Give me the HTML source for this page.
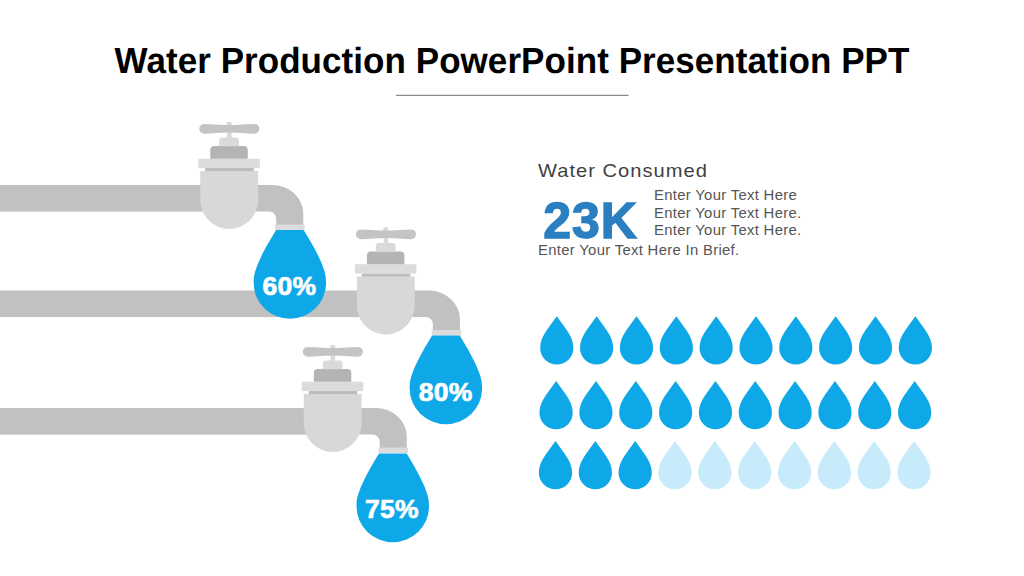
<!DOCTYPE html>
<html><head><meta charset="utf-8"><title>Water Production</title>
<style>
html,body{margin:0;padding:0;background:#fff;}
body{width:1024px;height:576px;position:relative;overflow:hidden;font-family:"Liberation Sans",sans-serif;}
svg{position:absolute;left:0;top:0;}
.t{position:absolute;white-space:nowrap;line-height:1;transform-origin:0 0;}
#title{left:0;width:1024px;text-align:center;top:43px;font-size:35px;font-weight:bold;color:#000;letter-spacing:0.06px;transform:scaleY(1.04);text-rendering:geometricPrecision;}
#wc{left:537.8px;top:162.3px;font-size:18.6px;color:#3f3f3f;letter-spacing:0.95px;transform:scaleX(1.08);}
#k{left:543.2px;top:195.6px;font-size:50px;font-weight:bold;color:#2a7fc1;letter-spacing:1px;-webkit-text-stroke:1.4px #2a7fc1;}
.l{font-size:14px;color:#555;letter-spacing:0.3px;transform:scaleX(1.06);}
.p{font-size:26.5px;font-weight:bold;color:#fff;-webkit-text-stroke:0.7px #fff;letter-spacing:0.2px;}
</style></head><body>
<svg width="1024" height="576" viewBox="0 0 1024 576">
<defs>
<g id="faucet">
  <rect x="-300" y="185" width="515" height="26.6" fill="#c1c1c1"/>
  <path d="M250,185 L272.6,185 A30.7,28.6 0 0 1 303.3,213.6 L303.3,225 L276.2,225 L276.2,218.6 A7,7 0 0 0 269.2,211.6 L250,211.6 Z" fill="#c1c1c1"/>
  <rect x="275" y="224.6" width="29.6" height="5.4" fill="#dcdcdc"/>
  <path d="M200.3,171 H258.1 V200.3 A28.9,28.6 0 0 1 200.3,200.3 Z" fill="#d8d8d8"/>
  <rect x="205.2" y="168" width="48.6" height="3.1" fill="#bcbcbc"/>
  <rect x="198.3" y="158.7" width="61.5" height="9.4" fill="#dcdcdc"/>
  <path d="M210.3,158.8 V150 A4,4 0 0 1 214.3,146 H243.8 A4,4 0 0 1 247.8,150 V158.8 Z" fill="#b4b4b4"/>
  <path d="M219.2,146.2 V140.4 A3,3 0 0 1 222.2,137.4 H236 A3,3 0 0 1 239,140.4 V146.2 Z" fill="#dadada"/>
  <rect x="227" y="132" width="4.7" height="6" fill="#dadada"/>
  <rect x="226.6" y="121.8" width="5.2" height="5" rx="2" fill="#dadada"/>
  <path d="M204.2,123.9 C212,123.9 220,125.1 229.3,125.1 C238,125.1 247,123.9 254.5,123.9 A4.9,4.9 0 0 1 254.5,133.7 C247,133.7 238,132.5 229.3,132.5 C220,132.5 212,133.7 204.2,133.7 A4.9,4.9 0 0 1 204.2,123.9 Z" fill="#c4c4c4"/>
</g>
<path id="bigdrop" d="M276.10,230.1 L303.70,230.1 C326.90,267.5 326.10,277 326.10,283.3 A36.2,35.4 0 0 1 253.70,283.3 C253.70,277 252.90,267.5 276.10,230.1 Z" fill="#0ea8e8"/>
</defs>
<rect x="396" y="94.8" width="232.6" height="1" fill="#6e6e6e"/>
<use href="#faucet"/>
<use href="#faucet" transform="translate(156.6,105.5)"/>
<use href="#faucet" transform="translate(103.5,223)"/>
<use href="#bigdrop"/>
<use href="#bigdrop" transform="translate(156,105.5)"/>
<use href="#bigdrop" transform="translate(102.9,223.5)"/>
<path transform="translate(540.20,316.2)" d="M16.6,0 C28,15.5 33.2,22 33.2,32 A16.6,16.2 0 0 1 0,32 C0,22 5.2,15.5 16.6,0 Z" fill="#0ea8e8"/>
<path transform="translate(580.04,316.2)" d="M16.6,0 C28,15.5 33.2,22 33.2,32 A16.6,16.2 0 0 1 0,32 C0,22 5.2,15.5 16.6,0 Z" fill="#0ea8e8"/>
<path transform="translate(619.88,316.2)" d="M16.6,0 C28,15.5 33.2,22 33.2,32 A16.6,16.2 0 0 1 0,32 C0,22 5.2,15.5 16.6,0 Z" fill="#0ea8e8"/>
<path transform="translate(659.72,316.2)" d="M16.6,0 C28,15.5 33.2,22 33.2,32 A16.6,16.2 0 0 1 0,32 C0,22 5.2,15.5 16.6,0 Z" fill="#0ea8e8"/>
<path transform="translate(699.56,316.2)" d="M16.6,0 C28,15.5 33.2,22 33.2,32 A16.6,16.2 0 0 1 0,32 C0,22 5.2,15.5 16.6,0 Z" fill="#0ea8e8"/>
<path transform="translate(739.40,316.2)" d="M16.6,0 C28,15.5 33.2,22 33.2,32 A16.6,16.2 0 0 1 0,32 C0,22 5.2,15.5 16.6,0 Z" fill="#0ea8e8"/>
<path transform="translate(779.24,316.2)" d="M16.6,0 C28,15.5 33.2,22 33.2,32 A16.6,16.2 0 0 1 0,32 C0,22 5.2,15.5 16.6,0 Z" fill="#0ea8e8"/>
<path transform="translate(819.08,316.2)" d="M16.6,0 C28,15.5 33.2,22 33.2,32 A16.6,16.2 0 0 1 0,32 C0,22 5.2,15.5 16.6,0 Z" fill="#0ea8e8"/>
<path transform="translate(858.92,316.2)" d="M16.6,0 C28,15.5 33.2,22 33.2,32 A16.6,16.2 0 0 1 0,32 C0,22 5.2,15.5 16.6,0 Z" fill="#0ea8e8"/>
<path transform="translate(898.76,316.2)" d="M16.6,0 C28,15.5 33.2,22 33.2,32 A16.6,16.2 0 0 1 0,32 C0,22 5.2,15.5 16.6,0 Z" fill="#0ea8e8"/>
<path transform="translate(539.50,381)" d="M16.6,0 C28,15.5 33.2,22 33.2,32 A16.6,16.2 0 0 1 0,32 C0,22 5.2,15.5 16.6,0 Z" fill="#0ea8e8"/>
<path transform="translate(579.34,381)" d="M16.6,0 C28,15.5 33.2,22 33.2,32 A16.6,16.2 0 0 1 0,32 C0,22 5.2,15.5 16.6,0 Z" fill="#0ea8e8"/>
<path transform="translate(619.18,381)" d="M16.6,0 C28,15.5 33.2,22 33.2,32 A16.6,16.2 0 0 1 0,32 C0,22 5.2,15.5 16.6,0 Z" fill="#0ea8e8"/>
<path transform="translate(659.02,381)" d="M16.6,0 C28,15.5 33.2,22 33.2,32 A16.6,16.2 0 0 1 0,32 C0,22 5.2,15.5 16.6,0 Z" fill="#0ea8e8"/>
<path transform="translate(698.86,381)" d="M16.6,0 C28,15.5 33.2,22 33.2,32 A16.6,16.2 0 0 1 0,32 C0,22 5.2,15.5 16.6,0 Z" fill="#0ea8e8"/>
<path transform="translate(738.70,381)" d="M16.6,0 C28,15.5 33.2,22 33.2,32 A16.6,16.2 0 0 1 0,32 C0,22 5.2,15.5 16.6,0 Z" fill="#0ea8e8"/>
<path transform="translate(778.54,381)" d="M16.6,0 C28,15.5 33.2,22 33.2,32 A16.6,16.2 0 0 1 0,32 C0,22 5.2,15.5 16.6,0 Z" fill="#0ea8e8"/>
<path transform="translate(818.38,381)" d="M16.6,0 C28,15.5 33.2,22 33.2,32 A16.6,16.2 0 0 1 0,32 C0,22 5.2,15.5 16.6,0 Z" fill="#0ea8e8"/>
<path transform="translate(858.22,381)" d="M16.6,0 C28,15.5 33.2,22 33.2,32 A16.6,16.2 0 0 1 0,32 C0,22 5.2,15.5 16.6,0 Z" fill="#0ea8e8"/>
<path transform="translate(898.06,381)" d="M16.6,0 C28,15.5 33.2,22 33.2,32 A16.6,16.2 0 0 1 0,32 C0,22 5.2,15.5 16.6,0 Z" fill="#0ea8e8"/>
<path transform="translate(538.90,441)" d="M16.6,0 C28,15.5 33.2,22 33.2,32 A16.6,16.2 0 0 1 0,32 C0,22 5.2,15.5 16.6,0 Z" fill="#0ea8e8"/>
<path transform="translate(578.74,441)" d="M16.6,0 C28,15.5 33.2,22 33.2,32 A16.6,16.2 0 0 1 0,32 C0,22 5.2,15.5 16.6,0 Z" fill="#0ea8e8"/>
<path transform="translate(618.58,441)" d="M16.6,0 C28,15.5 33.2,22 33.2,32 A16.6,16.2 0 0 1 0,32 C0,22 5.2,15.5 16.6,0 Z" fill="#0ea8e8"/>
<path transform="translate(658.42,441)" d="M16.6,0 C28,15.5 33.2,22 33.2,32 A16.6,16.2 0 0 1 0,32 C0,22 5.2,15.5 16.6,0 Z" fill="#c8ebfb"/>
<path transform="translate(698.26,441)" d="M16.6,0 C28,15.5 33.2,22 33.2,32 A16.6,16.2 0 0 1 0,32 C0,22 5.2,15.5 16.6,0 Z" fill="#c8ebfb"/>
<path transform="translate(738.10,441)" d="M16.6,0 C28,15.5 33.2,22 33.2,32 A16.6,16.2 0 0 1 0,32 C0,22 5.2,15.5 16.6,0 Z" fill="#c8ebfb"/>
<path transform="translate(777.94,441)" d="M16.6,0 C28,15.5 33.2,22 33.2,32 A16.6,16.2 0 0 1 0,32 C0,22 5.2,15.5 16.6,0 Z" fill="#c8ebfb"/>
<path transform="translate(817.78,441)" d="M16.6,0 C28,15.5 33.2,22 33.2,32 A16.6,16.2 0 0 1 0,32 C0,22 5.2,15.5 16.6,0 Z" fill="#c8ebfb"/>
<path transform="translate(857.62,441)" d="M16.6,0 C28,15.5 33.2,22 33.2,32 A16.6,16.2 0 0 1 0,32 C0,22 5.2,15.5 16.6,0 Z" fill="#c8ebfb"/>
<path transform="translate(897.46,441)" d="M16.6,0 C28,15.5 33.2,22 33.2,32 A16.6,16.2 0 0 1 0,32 C0,22 5.2,15.5 16.6,0 Z" fill="#c8ebfb"/>
</svg>
<div class="t" id="title">Water Production PowerPoint Presentation PPT</div>
<div class="t" id="wc">Water Consumed</div>
<div class="t" id="k">23K</div>
<div class="t l" style="left:653.5px;top:188.2px;">Enter Your Text Here</div>
<div class="t l" style="left:653.5px;top:205.8px;">Enter Your Text Here.</div>
<div class="t l" style="left:653.5px;top:223.4px;">Enter Your Text Here.</div>
<div class="t l" style="left:538.3px;top:243.2px;">Enter Your Text Here In Brief.</div>
<div class="t p" style="left:262.6px;top:273.4px;">60%</div>
<div class="t p" style="left:418.8px;top:379.1px;">80%</div>
<div class="t p" style="left:365.1px;top:496.2px;">75%</div>
</body></html>
